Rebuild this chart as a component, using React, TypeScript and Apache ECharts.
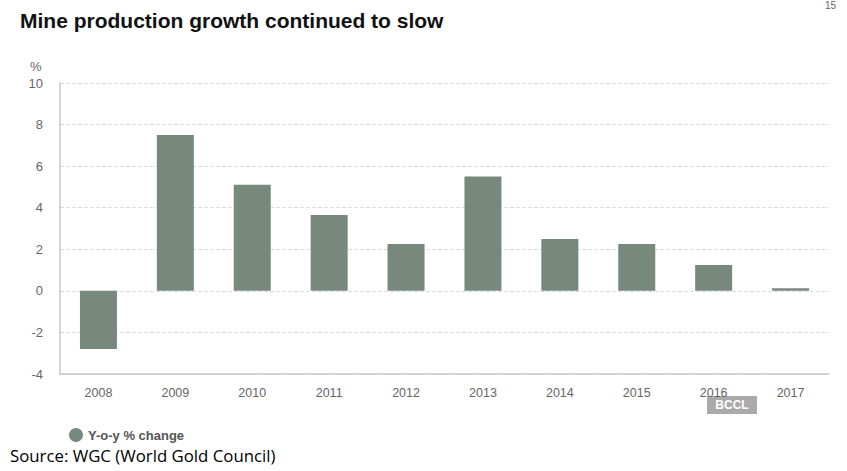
import React, { useEffect, useRef } from "react";
import * as echarts from "echarts";

const categories = ["2008", "2009", "2010", "2011", "2012", "2013", "2014", "2015", "2016", "2017"];
const yoyChange = [-2.8, 7.5, 5.1, 3.65, 2.25, 5.5, 2.5, 2.25, 1.25, 0.12];
const seriesName = "Y-o-y % change";
const titleText = "Mine production growth continued to slow";
const sourceText = "Source: WGC (World Gold Council)";

export default function App() {
  const ref = useRef<HTMLDivElement>(null);
  useEffect(() => {
    if (!ref.current) return;
    const chart = echarts.init(ref.current, undefined, { renderer: "svg" });
    chart.setOption({
      animation: false,
      backgroundColor: "#ffffff",
      textStyle: { fontFamily: "Arial, 'Liberation Sans', sans-serif" },
      grid: { left: 60, right: 18, top: 83, bottom: 97 },
      legend: {
        data: [seriesName],
        left: 64,
        top: 423,
        icon: "circle",
        itemWidth: 14,
        itemHeight: 14,
        itemGap: 8,
        textStyle: { color: "#555", fontSize: 13, fontWeight: "bold", fontFamily: "Arial, 'Liberation Sans', sans-serif" },
      },
      xAxis: {
        type: "category",
        data: categories,
        axisLine: { onZero: false, lineStyle: { color: "#c8c8c8", width: 1.5 } },
        axisTick: { show: false },
        axisLabel: { color: "#666", fontSize: 12.5, margin: 12 },
      },
      yAxis: {
        type: "value",
        min: -4,
        max: 10,
        interval: 2,
        axisLine: { show: true, lineStyle: { color: "#c8c8c8", width: 1.5 } },
        axisTick: { show: false },
        axisLabel: { color: "#666", fontSize: 13, margin: 17 },
        splitLine: { lineStyle: { color: "#dddddd", type: "dashed", width: 1 } },
      },
      series: [
        {
          name: seriesName,
          type: "bar",
          data: yoyChange,
          barWidth: 37,
          itemStyle: { color: "#77897d" },
        },
      ],
      graphic: [
        {
          type: "text",
          left: 20,
          top: 10,
          style: {
            text: titleText,
            fontSize: 21,
            fontWeight: "bold",
            fill: "#111",
            fontFamily: "Arial, 'Liberation Sans', sans-serif",
          },
        },
        {
          type: "text",
          left: 825,
          top: 0,
          style: { text: "15", fontSize: 10, fill: "#666", fontFamily: "Arial, 'Liberation Sans', sans-serif" },
        },
        {
          type: "text",
          left: 30,
          top: 60,
          style: { text: "%", fontSize: 13, fill: "#666", fontFamily: "Arial, 'Liberation Sans', sans-serif" },
        },
        {
          type: "rect",
          shape: { x: 707, y: 396, width: 50, height: 18 },
          style: { fill: "#aaaaaa" },
        },
        {
          type: "text",
          x: 732,
          y: 405,
          style: {
            text: "BCCL",
            fontSize: 12,
            fontWeight: "bold",
            fill: "#ffffff",
            align: "center",
            verticalAlign: "middle",
            fontFamily: "Arial, 'Liberation Sans', sans-serif",
          },
        },
        {
          type: "text",
          left: 10,
          top: 447,
          style: {
            text: sourceText,
            fontSize: 16.8,
            fill: "#000",
            fontFamily: "'Open Sans', 'Noto Sans', sans-serif",
          },
        },
      ],
    });
    return () => chart.dispose();
  }, []);
  return (
    <div
      ref={ref}
      style={{ position: "fixed", left: 0, top: 0, width: 847, height: 471, background: "#fff" }}
    />
  );
}
